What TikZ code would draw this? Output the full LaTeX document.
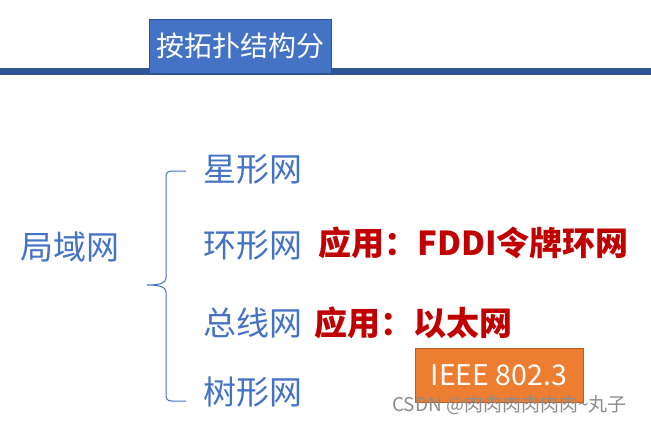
\documentclass[tikz,border=0pt]{standalone}
\usepackage{fontspec}
\setmainfont{Noto Sans CJK SC}
\definecolor{lanblue}{RGB}{68, 114, 196}
\definecolor{bardark}{RGB}{47, 85, 151}
\definecolor{appred}{RGB}{192, 0, 0}
\definecolor{ieeeorange}{RGB}{237, 125, 49}
\usetikzlibrary{positioning}

\begin{document}
\begin{tikzpicture}[x=1pt, y=-1pt,
  kind/.style={text=lanblue, font=\fontsize{33}{33}\selectfont, inner sep=0pt, anchor=west},
  appl/.style={text=appred, font=\bfseries\fontsize{33}{33}\selectfont, inner sep=0pt, anchor=west}
]
  \useasboundingbox (0,0) rectangle (651,423);
  % heading bar and title
  \fill[bardark] (0,68) rectangle (651,75);
  \node[draw=bardark, fill=lanblue, text=white, line width=1pt, minimum width=182pt, minimum height=54pt,
    font=\fontsize{28}{28}\selectfont, inner sep=0pt] (title) at (240,46) {按拓扑结构分};
  % left side
  \node[kind] (lan) at (20,247) {局域网};
  % brace
  \coordinate (btop) at (186,171);
  \coordinate (bbot) at (186,401);
  \coordinate (btip) at (147,285);
  \draw[lanblue, line width=1pt] (btop) -- (172,171) .. controls (167,171) and (166,173) .. (166,178)
    -- (166,278) .. controls (166,283) and (160,285) .. (btip)
    .. controls (160,285) and (166,287) .. (166,292)
    -- (166,394) .. controls (166,399) and (167,401) .. (172,401) -- (bbot);
  % the four kinds
  \node[kind] (star) at (203,169) {星形网};
  \node[kind] (ring) at (203,245) {环形网};
  \node[kind] (bus) at (203,323) {总线网};
  \node[kind] (tree) at (203,392) {树形网};
  \node[appl] (ringapp) at (318,243) {应用：FDDI令牌环网};
  \node[appl] (busapp) at (314,323) {应用：以太网};
  \node[draw=ieeeorange!75!black, fill=ieeeorange, text=white, minimum width=168pt, minimum height=54pt,
    font=\fontsize{28.5}{28.5}\selectfont, inner sep=0pt] (ieee) at (499,375) {IEEE 802.3};
  \node[text=black!45, font=\fontsize{19}{19}\selectfont, inner sep=0pt, anchor=west] (mark) at (392,405) {CSDN @肉肉肉肉肉肉\textasciitilde 丸子};
\end{tikzpicture}
\end{document}
